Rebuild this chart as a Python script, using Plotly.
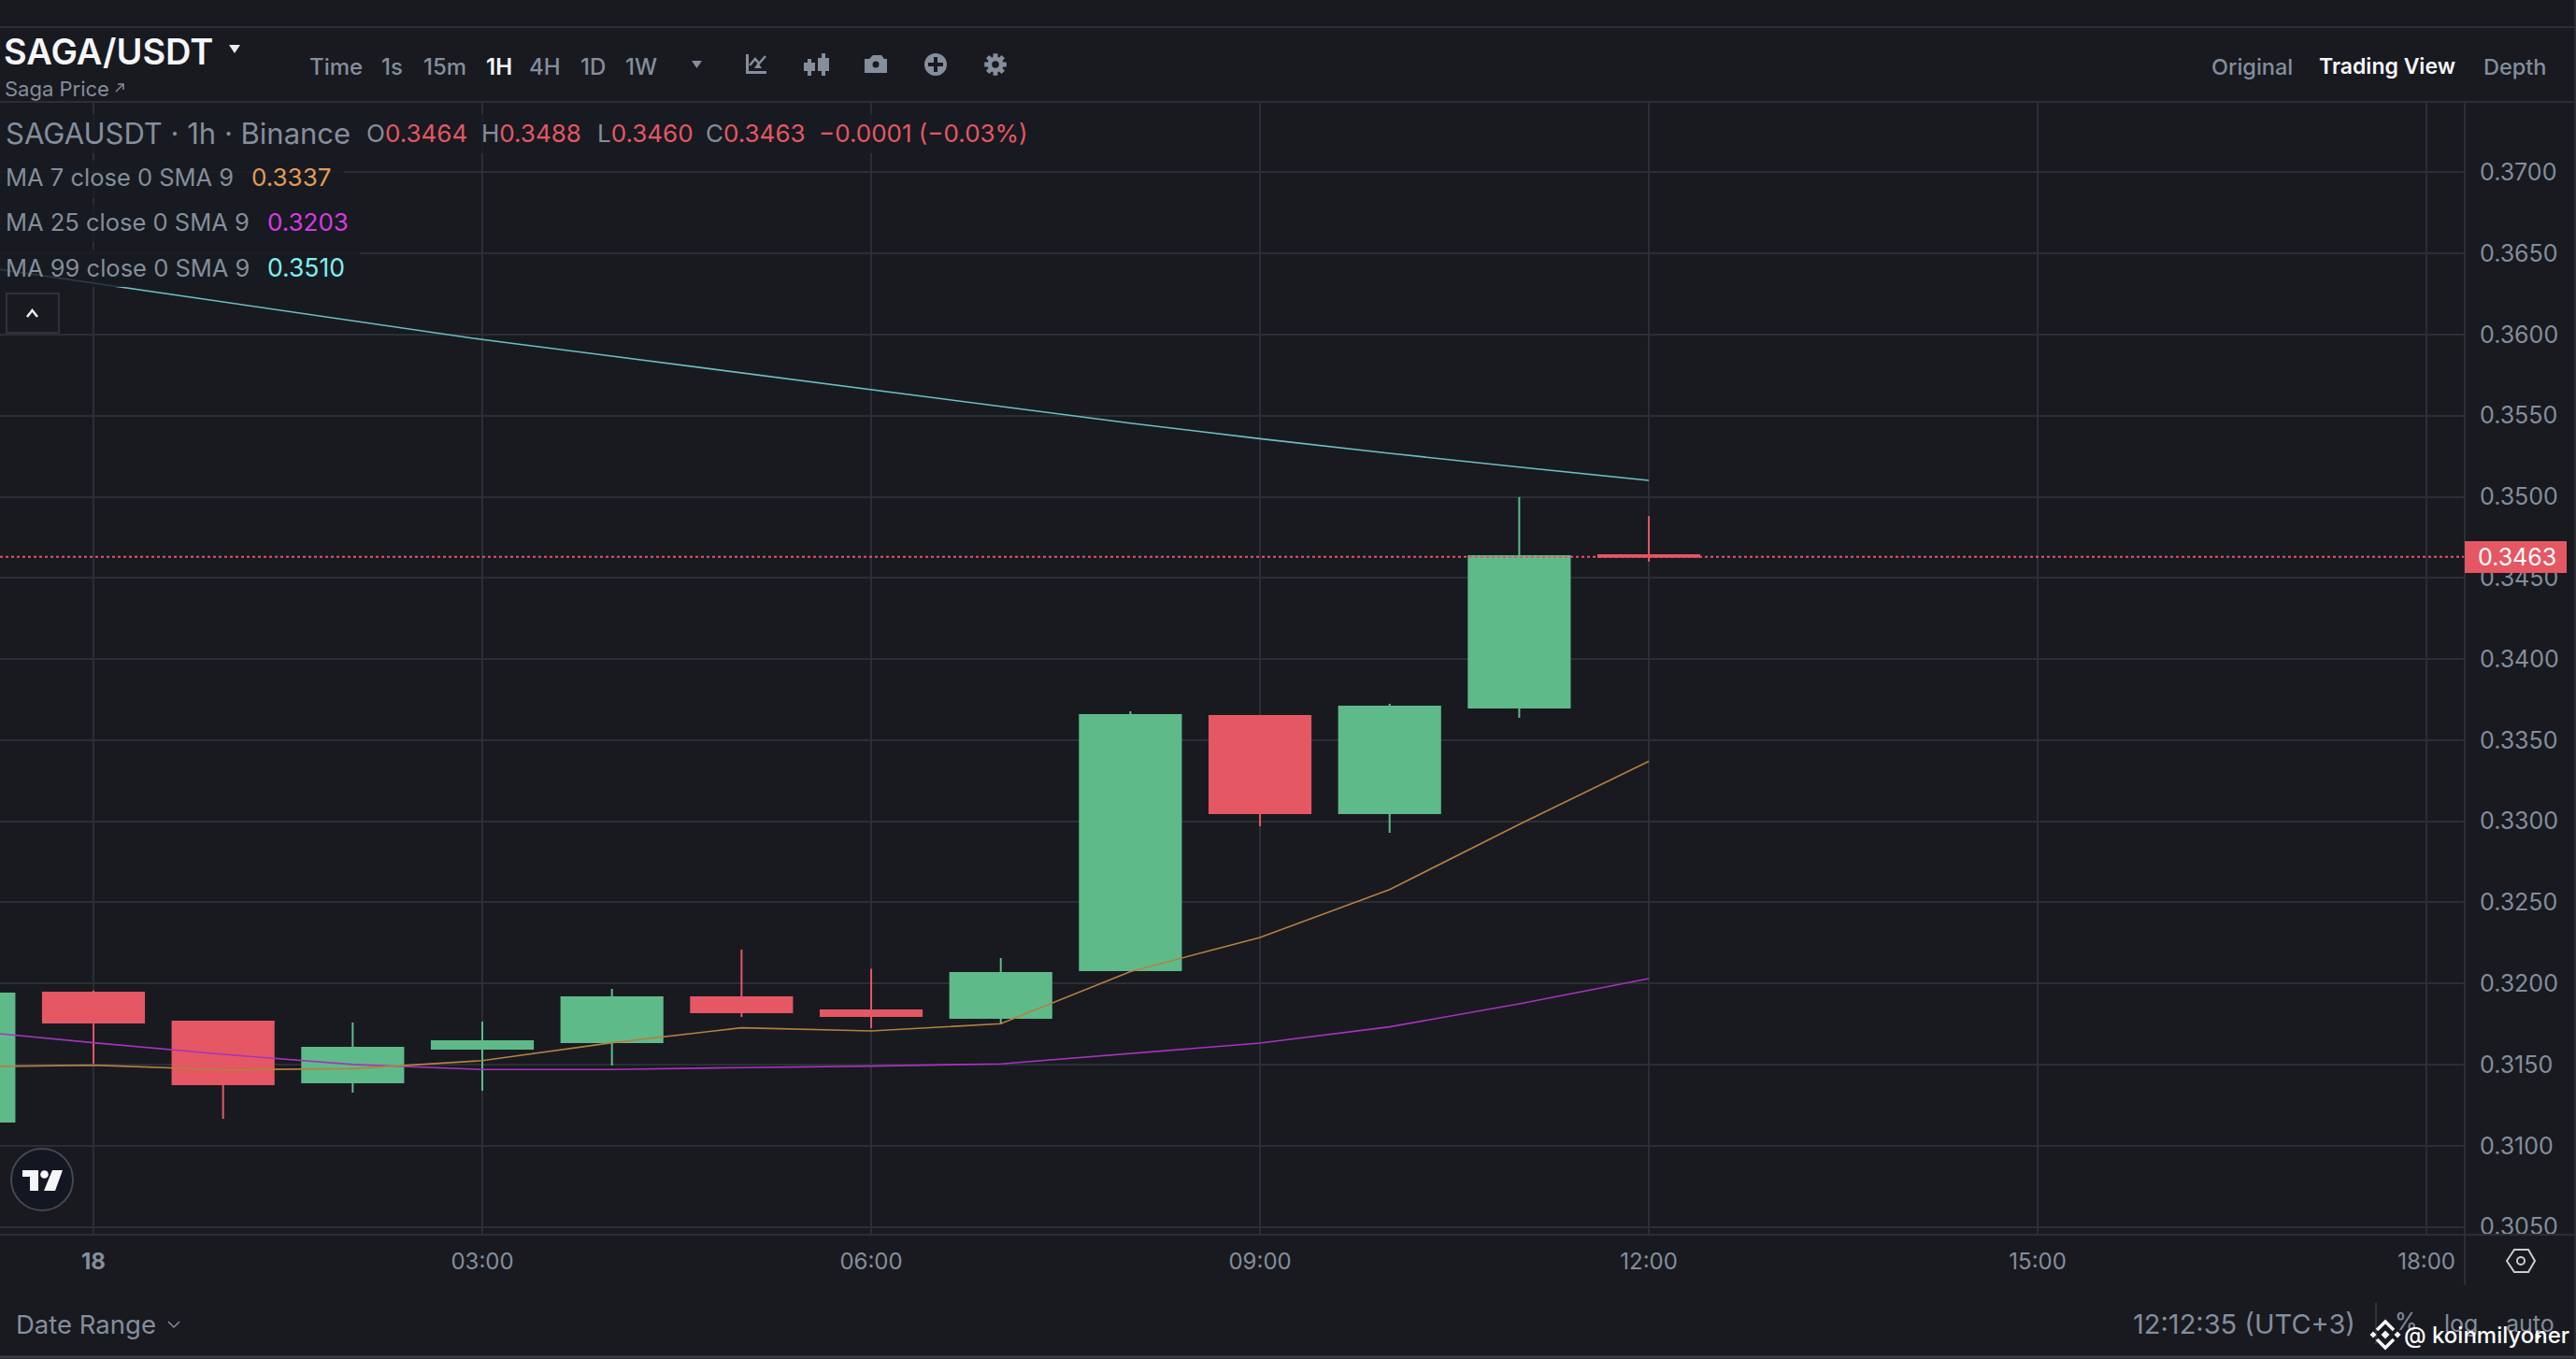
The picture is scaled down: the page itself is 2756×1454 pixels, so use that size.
import math
import plotly.graph_objects as go

# Candles, hours counted from the "18" day tick
hours = [-1, 0, 1, 2, 3, 4, 5, 6, 7, 8, 9, 10, 11, 12]
opens = [0.31149, 0.31944, 0.31766, 0.31391, 0.31599, 0.31639, 0.31915, 0.31835, 0.31789, 0.32082, 0.33649, 0.3305, 0.33701, 0.3464]
highs = [0.31938, 0.31956, 0.31766, 0.3176, 0.31766, 0.31967, 0.32209, 0.32091, 0.32157, 0.33678, 0.33649, 0.33724, 0.34999, 0.3488]
lows = [0.31149, 0.31505, 0.31167, 0.31328, 0.31339, 0.31495, 0.31794, 0.31725, 0.31748, 0.32082, 0.32969, 0.32929, 0.33638, 0.346]
closes = [0.31938, 0.3176, 0.3138, 0.31604, 0.31645, 0.31915, 0.31823, 0.318, 0.32065, 0.33655, 0.3305, 0.33707, 0.34634, 0.3463]

ma7 = [0.31487, 0.31497, 0.31469, 0.31475, 0.31525, 0.31635, 0.31727, 0.31708, 0.31752, 0.32074, 0.32284, 0.32579, 0.32981, 0.3337]
ma25 = [0.31712, 0.31635, 0.31564, 0.31501, 0.3147, 0.3147, 0.31482, 0.31491, 0.31505, 0.3157, 0.31633, 0.31733, 0.31875, 0.3203]
ma99 = [0.36433, 0.36317, 0.36202, 0.36084, 0.35969, 0.35867, 0.35763, 0.35661, 0.35556, 0.35454, 0.35358, 0.35268, 0.35183, 0.35101]

last_price = 0.3463
time_ticks = [0, 3, 6, 9, 12, 15, 18]
time_labels = ["<b>18</b>", "03:00", "06:00", "09:00", "12:00", "15:00", "18:00"]

W, H = 2756, 1454
BG = "#181A20"
GRID = "#2B2F35"
GREY = "#848E9C"
GREEN = "#5FBA8A"
RED = "#E55763"
FONT = "Inter"

shapes = []
notes = []


def px(x):
    return x / W


def py(y):
    return 1 - y / H


def box(x0, y0, x1, y1, color, line=None, width=0):
    shapes.append(dict(type="rect", xref="paper", yref="paper", x0=px(x0), x1=px(x1), y0=py(y0), y1=py(y1),
                       fillcolor=color, line=dict(color=line or color, width=width), layer="above"))


def seg(x0, y0, x1, y1, color=GRID, width=2):
    shapes.append(dict(type="line", xref="paper", yref="paper", x0=px(x0), x1=px(x1), y0=py(y0), y1=py(y1),
                       line=dict(color=color, width=width), layer="above"))


def poly(points, color=None, line=None, width=0, closed=True):
    d = "M " + " L ".join(f"{px(a):.6f},{py(b):.6f}" for a, b in points) + (" Z" if closed else "")
    shapes.append(dict(type="path", xref="paper", yref="paper", path=d, fillcolor=color or "rgba(0,0,0,0)",
                       line=dict(color=line or "rgba(0,0,0,0)", width=width), layer="above"))


def disc(cx, cy, r, color, line=None, width=0):
    shapes.append(dict(type="circle", xref="paper", yref="paper", x0=px(cx - r), x1=px(cx + r),
                       y0=py(cy + r), y1=py(cy - r), fillcolor=color,
                       line=dict(color=line or color, width=width), layer="above"))


def label(x, y, text, size=24, color=GREY, anchor="left", weight=400):
    notes.append(dict(xref="paper", yref="paper", x=px(x), y=py(y), text=text, showarrow=False,
                      xanchor=anchor, yanchor="middle", borderpad=0,
                      font=dict(family=FONT, size=size, color=color, weight=weight)))


# frame lines
seg(0, 29, W, 29)
seg(0, 109, W, 109)
seg(2637, 109, 2637, 1375)
seg(0, 1452, W, 1452, "#3A3E44", 3)
seg(2755, 0, 2755, 1452)

# hide the axis labels running past the price scale
box(2638, 1322, W - 2, 1375, BG)
seg(0, 1321, W, 1321)

# legend rows sit on a translucent plate
box(0, 122, 1110, 164, "rgba(24,26,32,0.8)")
box(0, 172, 368, 212, "rgba(24,26,32,0.8)")
box(0, 219, 385, 259, "rgba(24,26,32,0.8)")
box(0, 267, 385, 307, "rgba(24,26,32,0.8)")

# top bar
label(3, 55, "SAGA/USDT", 38, "#F5F6F8", weight=600)
poly([(245, 48), (257, 48), (251, 57)], "#EAECEF")
label(4, 95, "Saga Price", 22, GREY)
poly([(124, 98), (132, 90)], line=GREY, width=1.5, closed=False)
poly([(126, 90), (132, 90), (132, 96)], line=GREY, width=1.5, closed=False)
for name, xc, col, wt in [("Time", 359, GREY, 500), ("1s", 420, GREY, 500), ("15m", 476, GREY, 500),
                          ("1H", 534, "#F5F6F8", 600), ("4H", 583, GREY, 500), ("1D", 634, GREY, 500),
                          ("1W", 686, GREY, 500)]:
    label(xc, 71, name, 24, col, "center", wt)
poly([(740, 65), (751, 65), (745.5, 73)], GREY)

# toolbar icons
ICON = "#848E9C"
box(798, 58, 801, 79, ICON)
box(798, 76, 820, 79, ICON)
poly([(802, 70), (808, 63), (812, 68), (819, 60)], line=ICON, width=2.5, closed=False)
poly([(807, 73), (815, 73), (811, 67)], ICON)
box(860, 67, 872, 76, ICON)
box(864, 63, 868, 81, ICON)
box(875, 62, 887, 76, ICON)
box(879, 57, 883, 81, ICON)
box(925, 63, 949, 78, ICON)
poly([(930, 63), (934, 59), (943, 59), (946, 63)], ICON)
disc(937, 69, 3.5, BG)
disc(1001, 69, 12, ICON)
box(993, 67, 1009, 71, BG)
box(999, 61, 1003, 77, BG)
gear = []
for i in range(8):
    mid = i * math.pi / 4
    for off, rad in [(-0.3, 8.5), (-0.2, 12), (0.2, 12), (0.3, 8.5)]:
        gear.append((1065 + rad * math.cos(mid + off), 69 + rad * math.sin(mid + off)))
poly(gear, ICON)
disc(1065, 69, 3.8, BG)

# view switch
label(2409, 71, "Original", 23.5, GREY, "center", 500)
label(2554, 71, "Trading View", 23, "#F5F6F8", "center", 600)
label(2690, 71, "Depth", 23.5, GREY, "center", 500)

# series legend
label(5, 142, "SAGAUSDT · 1h · Binance", 31, GREY)
for x, tag, val in [(391, "O", "0.3464"), (514, "H", "0.3488"), (638, "L", "0.3460"), (754, "C", "0.3463")]:
    label(x, 142, f"{tag}<span style='color:{RED}'>{val}</span>", 26, GREY)
label(875, 142, "−0.0001 (−0.03%)", 26, RED)
label(5, 190, "MA 7 close 0 SMA 9", 25.5, GREY)
label(268, 190, "0.3337", 26, "#E49B57")
label(5, 238, "MA 25 close 0 SMA 9", 25.5, GREY)
label(285, 238, "0.3203", 26, "#D73BE3")
label(5, 286, "MA 99 close 0 SMA 9", 25.5, GREY)
label(285, 286, "0.3510", 26.5, "#7FF0F0")

# collapse button
box(7, 314, 63, 356, BG, "#2E3238", 2)
poly([(29, 339), (34.5, 332), (40, 339)], line="#EAECEF", width=2.5, closed=False)

# last price tag
box(2637, 579, 2746, 613, RED)
label(2693, 596, "0.3463", 25, "#FFFFFF", "center")

# tradingview badge
disc(45, 1262, 33, "#131722", "#45484F", 2)
box(24, 1252, 41, 1259, "#F5F6F8")
box(32, 1252, 41, 1274, "#F5F6F8")
disc(47.5, 1256.5, 4.3, "#F5F6F8")
poly([(56, 1252), (67, 1252), (59, 1274), (47, 1274)], "#F5F6F8")

# footer
label(16, 1417, "Date Range", 27.5, GREY)
poly([(180, 1414), (186, 1420), (192, 1414)], line=GREY, width=1.5, closed=False)
label(2521, 1416, "12:12:35 (UTC+3)", 29, GREY, "right")
seg(2542, 1394, 2542, 1438, "#3A3E44", 1.5)
label(2574, 1414, "%", 25, GREY, "center")
label(2633, 1416, "log", 25, GREY, "center")
label(2707, 1416, "auto", 25, GREY, "center")

# scale settings hexagon
poly([(2682, 1349), (2690, 1337), (2705, 1337), (2712, 1349), (2705, 1361), (2690, 1361)], line="#C9CDD2", width=2)
disc(2697, 1349, 4, BG, "#C9CDD2", 2)

# watermark
for cx, cy, r in [(2552, 1428, 4.5), (2539, 1428, 3.5), (2565, 1428, 3.5)]:
    poly([(cx - r, cy), (cx, cy - r), (cx + r, cy), (cx, cy + r)], "#F5F6F8")
poly([(2543, 1423), (2552, 1414), (2561, 1423)], line="#F5F6F8", width=3.5, closed=False)
poly([(2543, 1433), (2552, 1442), (2561, 1433)], line="#F5F6F8", width=3.5, closed=False)
label(2571, 1428, "@ koinmilyoner", 24, "#FFFFFF", weight=500)
poly([(2712, 1426), (2712, 1437), (2720, 1429)], "#FFFFFF", line="#181A20", width=1)

fig = go.Figure()
fig.add_trace(go.Scatter(x=hours, y=ma99, mode="lines", line=dict(color="#6CBFC4", width=1.6), name="MA 99"))
fig.add_trace(go.Scatter(x=hours, y=ma25, mode="lines", line=dict(color="#A832BE", width=1.6), name="MA 25"))
fig.add_trace(go.Scatter(x=hours, y=ma7, mode="lines", line=dict(color="#B5803F", width=1.6), name="MA 7"))
fig.add_trace(go.Candlestick(
    x=hours, open=opens, high=highs, low=lows, close=closes, whiskerwidth=0,
    increasing=dict(line=dict(color=GREEN, width=2), fillcolor=GREEN),
    decreasing=dict(line=dict(color=RED, width=2), fillcolor=RED),
    name="SAGAUSDT",
))

# last price dotted line
shapes.insert(0, dict(type="line", xref="paper", yref="y", x0=0, x1=px(2637), y0=last_price, y1=last_price,
                      line=dict(color=RED, width=2, dash="dot"), layer="above"))

fig.update_layout(
    width=W, height=H,
    margin=dict(l=0, r=0, t=0, b=0, autoexpand=False),
    paper_bgcolor=BG, plot_bgcolor=BG,
    showlegend=False,
    boxgap=0.22, boxgroupgap=0,
    shapes=shapes, annotations=notes,
    font=dict(family=FONT, color=GREY),
    xaxis=dict(
        domain=[0, px(2637)], range=[-0.7212, 18.295], automargin=False,
        tickmode="array", tickvals=time_ticks, ticktext=time_labels,
        ticks="outside", ticklen=7, tickcolor=BG,
        tickfont=dict(family=FONT, size=24, color=GREY),
        showgrid=True, gridcolor=GRID, gridwidth=2, zeroline=False,
        rangeslider=dict(visible=False),
    ),
    yaxis=dict(
        domain=[py(1321), py(109)], range=[0.30452, 0.37434], side="right", automargin=False,
        tick0=0.3, dtick=0.005, tickformat=".4f",
        ticks="outside", ticklen=10, tickcolor=BG,
        tickfont=dict(family=FONT, size=25, color=GREY),
        showgrid=True, gridcolor=GRID, gridwidth=2, zeroline=False,
    ),
)

fig.write_html("out.html", config=dict(displayModeBar=False),
               post_script="document.body.style.margin='0';document.body.style.overflow='hidden';")
